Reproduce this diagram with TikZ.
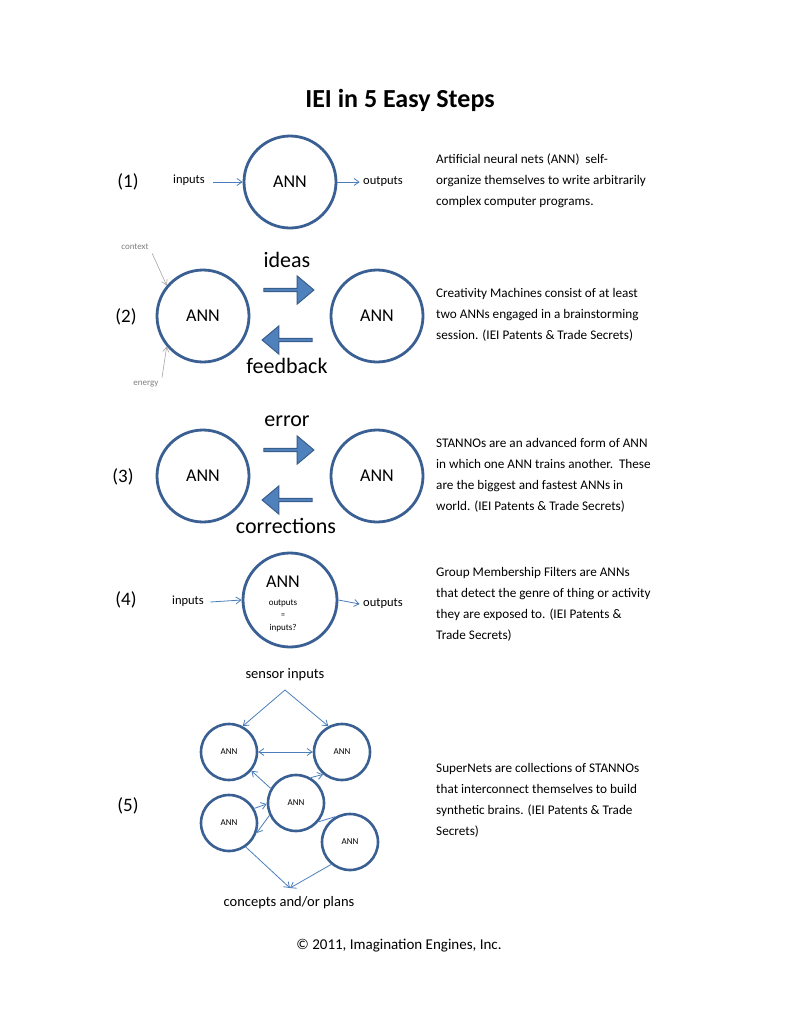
\documentclass[tikz,border=0pt]{standalone}
\usepackage{fontspec}
\setmainfont{Carlito}
\usetikzlibrary{shapes.arrows,arrows.meta}
\definecolor{ring}{HTML}{3A5F93}
\definecolor{lnk}{HTML}{4A7EBB}
\definecolor{barfill}{HTML}{4F81BD}
\definecolor{bardraw}{HTML}{385D8A}
\tikzset{
 ann/.style={circle,draw=ring,line width=2.8pt,minimum size=#1,inner sep=0pt},
 lk/.style={draw=lnk,line width=0.8pt,-{Straight Barb[length=5pt,width=7pt]}},
 lkk/.style={draw=lnk,line width=0.8pt,{Straight Barb[length=5pt,width=7pt]}-{Straight Barb[length=5pt,width=7pt]}},
 gk/.style={draw=gray!70,line width=0.6pt,-{Straight Barb[length=5pt,width=6pt]}},
 barr/.style={single arrow,fill=barfill,draw=bardraw,line width=1pt,minimum height=50pt,minimum width=28pt,single arrow head extend=4pt,single arrow tip angle=80,inner sep=0pt,shape border rotate=#1},
 desc/.style={anchor=north west,align=left,font=\fontsize{13.2}{21}\selectfont,inner sep=0pt},
 lab/.style={font=\fontsize{19}{22}\selectfont},
 sm/.style={font=\fontsize{12.5}{14}\selectfont},
}
\begin{document}
\begin{tikzpicture}[x=1pt,y=-1pt]
\useasboundingbox[fill=white] (0,0) rectangle (791,1023);
\node[font=\fontsize{26}{30}\selectfont\bfseries] (title) at (400,100) {IEI in 5 Easy Steps};
% (1)
\node[lab] (n1) at (128,182) {(1)};
\node[sm] (in1) at (189,180) {inputs};
\node[ann=92pt,font=\fontsize{18}{20}\selectfont] (a1) at (290,182) {ANN};
\node[sm] (out1) at (383,182) {outputs};
\draw[lk] (in1.east)++(5,2) coordinate (i1s) (i1s) -- (a1.west);
\draw[lk] (a1.east) -- (out1.west);
\node[desc] (d1) at (436,154) {Artificial neural nets (ANN)\ \ self-\\organize themselves to write arbitrarily\\complex computer programs.};
% (2)
\node[lab] (n2) at (126,317) {(2)};
\node[font=\fontsize{9}{10}\selectfont,text=gray] (ctx) at (135,247) {context};
\node[font=\fontsize{9}{10}\selectfont,text=gray] (eng) at (146,384) {energy};
\node[ann=92pt,font=\fontsize{18}{20}\selectfont] (a2l) at (203,316) {ANN};
\node[ann=92pt,font=\fontsize{18}{20}\selectfont] (a2r) at (377,316) {ANN};
\draw[gk] (ctx.south east) -- (a2l.140);
\draw[gk] (eng.north east) -- (a2l.220);
\node[font=\fontsize{22}{24}\selectfont] (ideas) at (287,260) {ideas};
\node[font=\fontsize{22}{24}\selectfont] (fb) at (287,366) {feedback};
\node[barr=0] (b2a) at (288,290) {};
\node[barr=180] (b2b) at (288,340) {};
\node[desc] (d2) at (436,288) {Creativity Machines consist of at least\\two ANNs engaged in a brainstorming\\session. (IEI Patents \& Trade Secrets)};
% (3)
\node[lab] (n3) at (123,477) {(3)};
\node[ann=92pt,font=\fontsize{18}{20}\selectfont] (a3l) at (203,476) {ANN};
\node[ann=92pt,font=\fontsize{18}{20}\selectfont] (a3r) at (377,476) {ANN};
\node[font=\fontsize{22}{24}\selectfont] (err) at (287,421) {error};
\node[font=\fontsize{22}{24}\selectfont] (corr) at (286,526) {corrections};
\node[barr=0] (b3a) at (288,450) {};
\node[barr=180] (b3b) at (288,500) {};
\node[desc] (d3) at (436,438) {STANNOs are an advanced form of ANN\\in which one ANN trains another.\ \ These\\are the biggest and fastest ANNs in\\world. (IEI Patents \& Trade Secrets)};
% (4)
\node[lab] (n4) at (126,600) {(4)};
\node[sm] (in4) at (188,601) {inputs};
\node[ann=94pt] (a4) at (290,600) {};
\node[font=\fontsize{18}{20}\selectfont] (t4a) at (283,582) {ANN};
\node[font=\fontsize{9}{10}\selectfont] (t4b) at (283,603) {outputs};
\node[font=\fontsize{8}{9}\selectfont] (t4c) at (283,616) {=};
\node[font=\fontsize{9}{10}\selectfont] (t4d) at (283,628) {inputs?};
\node[sm] (out4) at (383,604) {outputs};
\draw[lk] (in4.east)++(3,1) coordinate (i4s) (i4s) -- (a4.west);
\draw[lk] (a4.east) -- (out4.west);
\node[desc] (d4) at (436,567) {Group Membership Filters are ANNs\\that detect the genre of thing or activity\\they are exposed to. (IEI Patents \&\\Trade Secrets)};
% (5)
\node[lab] (n5) at (128,806) {(5)};
\node[font=\fontsize{14.5}{16}\selectfont] (sens) at (285,675) {sensor inputs};
\node[font=\fontsize{14.5}{16}\selectfont] (conc) at (289,903) {concepts and/or plans};
\coordinate (top5) at (285,690);
\coordinate (bot5) at (290,888);
\tikzset{sn/.style={ann=56pt,line width=2.6pt,font=\fontsize{9}{10}\selectfont}}
\node[sn] (tl) at (229,752) {ANN};
\node[sn] (tr) at (342,752) {ANN};
\node[sn] (c) at (296,803) {ANN};
\node[sn] (bl) at (229,823) {ANN};
\node[sn] (br) at (350,842) {ANN};
\draw[lk] (top5) -- (tl.62);
\draw[lk] (top5) -- (tr.118);
\draw[lkk] (tl.east) -- (tr.west);
\draw[lk] (c.150) -- (tl.-40);
\draw[lk] (c.60) -- (tr.-130);
\draw[lk] (bl.30) -- (c.182);
\draw[lk] (c.205) -- (bl.-20);
\draw[draw=lnk,line width=0.8pt] (c.-40) -- (br.120);
\draw[lk] (bl.-55) -- (bot5);
\draw[lk] (br.-130) -- (bot5);
\node[desc] (d5) at (436,763) {SuperNets are collections of STANNOs\\that interconnect themselves to build\\synthetic brains. (IEI Patents \& Trade\\Secrets)};
\node[font=\fontsize{15}{17}\selectfont] (copy) at (399,946) {© 2011, Imagination Engines, Inc.};
\end{tikzpicture}
\end{document}
